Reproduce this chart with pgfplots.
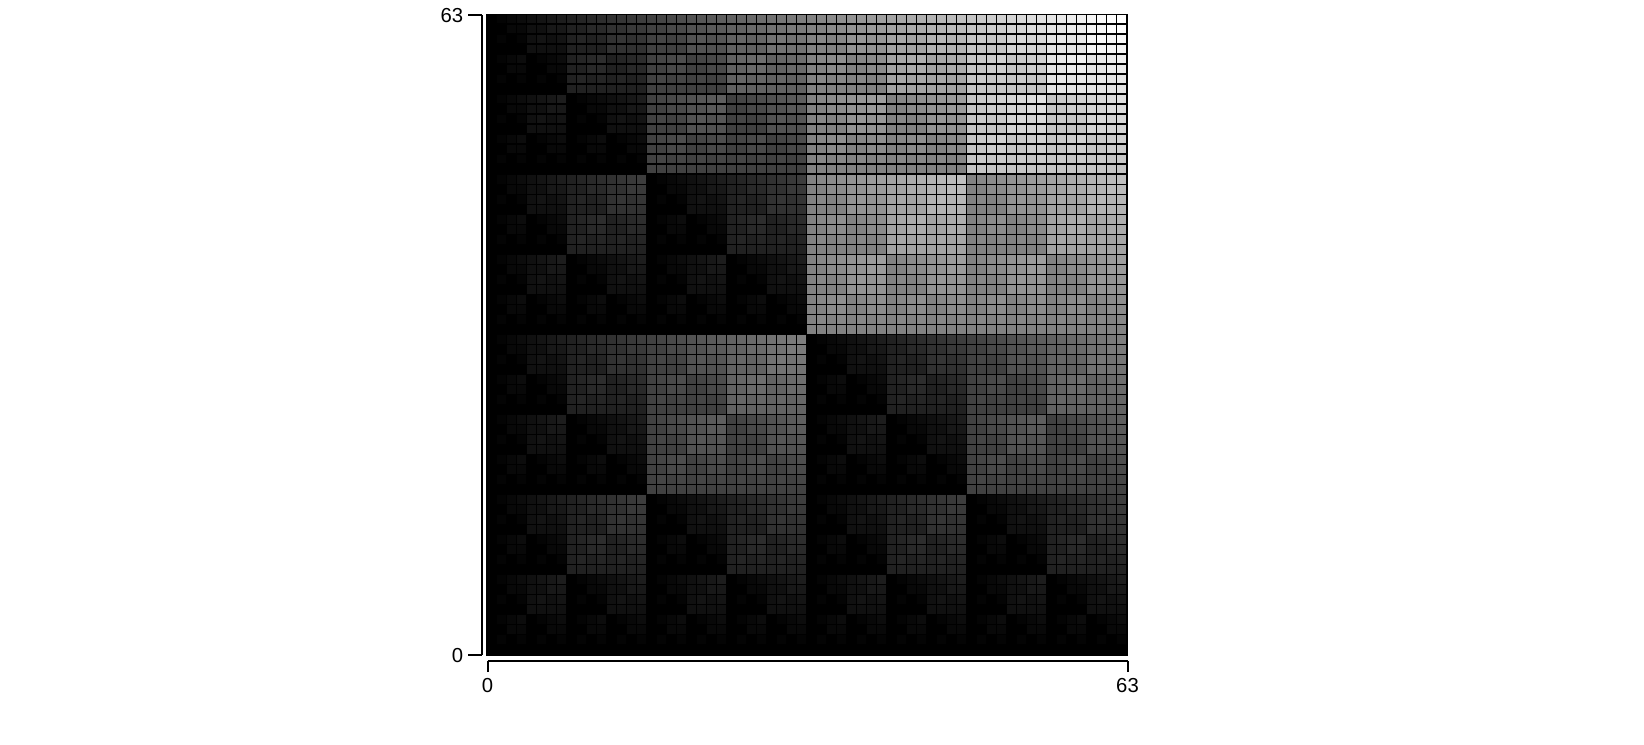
\documentclass[border=0pt]{standalone}
\usepackage{fontspec}
\setmainfont{Liberation Sans}
\usepackage{pgfplots}
\usepackage{pgfplotstable}
\pgfplotsset{compat=1.18}
% one line per y (0 at the top of this table), one column per x
\pgfplotstableread[header=false]{
0 0 0 0 0 0 0 0 0 0 0 0 0 0 0 0 0 0 0 0 0 0 0 0 0 0 0 0 0 0 0 0 0 0 0 0 0 0 0 0 0 0 0 0 0 0 0 0 0 0 0 0 0 0 0 0 0 0 0 0 0 0 0 0
0 1 0 1 0 1 0 1 0 1 0 1 0 1 0 1 0 1 0 1 0 1 0 1 0 1 0 1 0 1 0 1 0 1 0 1 0 1 0 1 0 1 0 1 0 1 0 1 0 1 0 1 0 1 0 1 0 1 0 1 0 1 0 1
0 0 2 2 0 0 2 2 0 0 2 2 0 0 2 2 0 0 2 2 0 0 2 2 0 0 2 2 0 0 2 2 0 0 2 2 0 0 2 2 0 0 2 2 0 0 2 2 0 0 2 2 0 0 2 2 0 0 2 2 0 0 2 2
0 1 2 3 0 1 2 3 0 1 2 3 0 1 2 3 0 1 2 3 0 1 2 3 0 1 2 3 0 1 2 3 0 1 2 3 0 1 2 3 0 1 2 3 0 1 2 3 0 1 2 3 0 1 2 3 0 1 2 3 0 1 2 3
0 0 0 0 4 4 4 4 0 0 0 0 4 4 4 4 0 0 0 0 4 4 4 4 0 0 0 0 4 4 4 4 0 0 0 0 4 4 4 4 0 0 0 0 4 4 4 4 0 0 0 0 4 4 4 4 0 0 0 0 4 4 4 4
0 1 0 1 4 5 4 5 0 1 0 1 4 5 4 5 0 1 0 1 4 5 4 5 0 1 0 1 4 5 4 5 0 1 0 1 4 5 4 5 0 1 0 1 4 5 4 5 0 1 0 1 4 5 4 5 0 1 0 1 4 5 4 5
0 0 2 2 4 4 6 6 0 0 2 2 4 4 6 6 0 0 2 2 4 4 6 6 0 0 2 2 4 4 6 6 0 0 2 2 4 4 6 6 0 0 2 2 4 4 6 6 0 0 2 2 4 4 6 6 0 0 2 2 4 4 6 6
0 1 2 3 4 5 6 7 0 1 2 3 4 5 6 7 0 1 2 3 4 5 6 7 0 1 2 3 4 5 6 7 0 1 2 3 4 5 6 7 0 1 2 3 4 5 6 7 0 1 2 3 4 5 6 7 0 1 2 3 4 5 6 7
0 0 0 0 0 0 0 0 8 8 8 8 8 8 8 8 0 0 0 0 0 0 0 0 8 8 8 8 8 8 8 8 0 0 0 0 0 0 0 0 8 8 8 8 8 8 8 8 0 0 0 0 0 0 0 0 8 8 8 8 8 8 8 8
0 1 0 1 0 1 0 1 8 9 8 9 8 9 8 9 0 1 0 1 0 1 0 1 8 9 8 9 8 9 8 9 0 1 0 1 0 1 0 1 8 9 8 9 8 9 8 9 0 1 0 1 0 1 0 1 8 9 8 9 8 9 8 9
0 0 2 2 0 0 2 2 8 8 10 10 8 8 10 10 0 0 2 2 0 0 2 2 8 8 10 10 8 8 10 10 0 0 2 2 0 0 2 2 8 8 10 10 8 8 10 10 0 0 2 2 0 0 2 2 8 8 10 10 8 8 10 10
0 1 2 3 0 1 2 3 8 9 10 11 8 9 10 11 0 1 2 3 0 1 2 3 8 9 10 11 8 9 10 11 0 1 2 3 0 1 2 3 8 9 10 11 8 9 10 11 0 1 2 3 0 1 2 3 8 9 10 11 8 9 10 11
0 0 0 0 4 4 4 4 8 8 8 8 12 12 12 12 0 0 0 0 4 4 4 4 8 8 8 8 12 12 12 12 0 0 0 0 4 4 4 4 8 8 8 8 12 12 12 12 0 0 0 0 4 4 4 4 8 8 8 8 12 12 12 12
0 1 0 1 4 5 4 5 8 9 8 9 12 13 12 13 0 1 0 1 4 5 4 5 8 9 8 9 12 13 12 13 0 1 0 1 4 5 4 5 8 9 8 9 12 13 12 13 0 1 0 1 4 5 4 5 8 9 8 9 12 13 12 13
0 0 2 2 4 4 6 6 8 8 10 10 12 12 14 14 0 0 2 2 4 4 6 6 8 8 10 10 12 12 14 14 0 0 2 2 4 4 6 6 8 8 10 10 12 12 14 14 0 0 2 2 4 4 6 6 8 8 10 10 12 12 14 14
0 1 2 3 4 5 6 7 8 9 10 11 12 13 14 15 0 1 2 3 4 5 6 7 8 9 10 11 12 13 14 15 0 1 2 3 4 5 6 7 8 9 10 11 12 13 14 15 0 1 2 3 4 5 6 7 8 9 10 11 12 13 14 15
0 0 0 0 0 0 0 0 0 0 0 0 0 0 0 0 16 16 16 16 16 16 16 16 16 16 16 16 16 16 16 16 0 0 0 0 0 0 0 0 0 0 0 0 0 0 0 0 16 16 16 16 16 16 16 16 16 16 16 16 16 16 16 16
0 1 0 1 0 1 0 1 0 1 0 1 0 1 0 1 16 17 16 17 16 17 16 17 16 17 16 17 16 17 16 17 0 1 0 1 0 1 0 1 0 1 0 1 0 1 0 1 16 17 16 17 16 17 16 17 16 17 16 17 16 17 16 17
0 0 2 2 0 0 2 2 0 0 2 2 0 0 2 2 16 16 18 18 16 16 18 18 16 16 18 18 16 16 18 18 0 0 2 2 0 0 2 2 0 0 2 2 0 0 2 2 16 16 18 18 16 16 18 18 16 16 18 18 16 16 18 18
0 1 2 3 0 1 2 3 0 1 2 3 0 1 2 3 16 17 18 19 16 17 18 19 16 17 18 19 16 17 18 19 0 1 2 3 0 1 2 3 0 1 2 3 0 1 2 3 16 17 18 19 16 17 18 19 16 17 18 19 16 17 18 19
0 0 0 0 4 4 4 4 0 0 0 0 4 4 4 4 16 16 16 16 20 20 20 20 16 16 16 16 20 20 20 20 0 0 0 0 4 4 4 4 0 0 0 0 4 4 4 4 16 16 16 16 20 20 20 20 16 16 16 16 20 20 20 20
0 1 0 1 4 5 4 5 0 1 0 1 4 5 4 5 16 17 16 17 20 21 20 21 16 17 16 17 20 21 20 21 0 1 0 1 4 5 4 5 0 1 0 1 4 5 4 5 16 17 16 17 20 21 20 21 16 17 16 17 20 21 20 21
0 0 2 2 4 4 6 6 0 0 2 2 4 4 6 6 16 16 18 18 20 20 22 22 16 16 18 18 20 20 22 22 0 0 2 2 4 4 6 6 0 0 2 2 4 4 6 6 16 16 18 18 20 20 22 22 16 16 18 18 20 20 22 22
0 1 2 3 4 5 6 7 0 1 2 3 4 5 6 7 16 17 18 19 20 21 22 23 16 17 18 19 20 21 22 23 0 1 2 3 4 5 6 7 0 1 2 3 4 5 6 7 16 17 18 19 20 21 22 23 16 17 18 19 20 21 22 23
0 0 0 0 0 0 0 0 8 8 8 8 8 8 8 8 16 16 16 16 16 16 16 16 24 24 24 24 24 24 24 24 0 0 0 0 0 0 0 0 8 8 8 8 8 8 8 8 16 16 16 16 16 16 16 16 24 24 24 24 24 24 24 24
0 1 0 1 0 1 0 1 8 9 8 9 8 9 8 9 16 17 16 17 16 17 16 17 24 25 24 25 24 25 24 25 0 1 0 1 0 1 0 1 8 9 8 9 8 9 8 9 16 17 16 17 16 17 16 17 24 25 24 25 24 25 24 25
0 0 2 2 0 0 2 2 8 8 10 10 8 8 10 10 16 16 18 18 16 16 18 18 24 24 26 26 24 24 26 26 0 0 2 2 0 0 2 2 8 8 10 10 8 8 10 10 16 16 18 18 16 16 18 18 24 24 26 26 24 24 26 26
0 1 2 3 0 1 2 3 8 9 10 11 8 9 10 11 16 17 18 19 16 17 18 19 24 25 26 27 24 25 26 27 0 1 2 3 0 1 2 3 8 9 10 11 8 9 10 11 16 17 18 19 16 17 18 19 24 25 26 27 24 25 26 27
0 0 0 0 4 4 4 4 8 8 8 8 12 12 12 12 16 16 16 16 20 20 20 20 24 24 24 24 28 28 28 28 0 0 0 0 4 4 4 4 8 8 8 8 12 12 12 12 16 16 16 16 20 20 20 20 24 24 24 24 28 28 28 28
0 1 0 1 4 5 4 5 8 9 8 9 12 13 12 13 16 17 16 17 20 21 20 21 24 25 24 25 28 29 28 29 0 1 0 1 4 5 4 5 8 9 8 9 12 13 12 13 16 17 16 17 20 21 20 21 24 25 24 25 28 29 28 29
0 0 2 2 4 4 6 6 8 8 10 10 12 12 14 14 16 16 18 18 20 20 22 22 24 24 26 26 28 28 30 30 0 0 2 2 4 4 6 6 8 8 10 10 12 12 14 14 16 16 18 18 20 20 22 22 24 24 26 26 28 28 30 30
0 1 2 3 4 5 6 7 8 9 10 11 12 13 14 15 16 17 18 19 20 21 22 23 24 25 26 27 28 29 30 31 0 1 2 3 4 5 6 7 8 9 10 11 12 13 14 15 16 17 18 19 20 21 22 23 24 25 26 27 28 29 30 31
0 0 0 0 0 0 0 0 0 0 0 0 0 0 0 0 0 0 0 0 0 0 0 0 0 0 0 0 0 0 0 0 32 32 32 32 32 32 32 32 32 32 32 32 32 32 32 32 32 32 32 32 32 32 32 32 32 32 32 32 32 32 32 32
0 1 0 1 0 1 0 1 0 1 0 1 0 1 0 1 0 1 0 1 0 1 0 1 0 1 0 1 0 1 0 1 32 33 32 33 32 33 32 33 32 33 32 33 32 33 32 33 32 33 32 33 32 33 32 33 32 33 32 33 32 33 32 33
0 0 2 2 0 0 2 2 0 0 2 2 0 0 2 2 0 0 2 2 0 0 2 2 0 0 2 2 0 0 2 2 32 32 34 34 32 32 34 34 32 32 34 34 32 32 34 34 32 32 34 34 32 32 34 34 32 32 34 34 32 32 34 34
0 1 2 3 0 1 2 3 0 1 2 3 0 1 2 3 0 1 2 3 0 1 2 3 0 1 2 3 0 1 2 3 32 33 34 35 32 33 34 35 32 33 34 35 32 33 34 35 32 33 34 35 32 33 34 35 32 33 34 35 32 33 34 35
0 0 0 0 4 4 4 4 0 0 0 0 4 4 4 4 0 0 0 0 4 4 4 4 0 0 0 0 4 4 4 4 32 32 32 32 36 36 36 36 32 32 32 32 36 36 36 36 32 32 32 32 36 36 36 36 32 32 32 32 36 36 36 36
0 1 0 1 4 5 4 5 0 1 0 1 4 5 4 5 0 1 0 1 4 5 4 5 0 1 0 1 4 5 4 5 32 33 32 33 36 37 36 37 32 33 32 33 36 37 36 37 32 33 32 33 36 37 36 37 32 33 32 33 36 37 36 37
0 0 2 2 4 4 6 6 0 0 2 2 4 4 6 6 0 0 2 2 4 4 6 6 0 0 2 2 4 4 6 6 32 32 34 34 36 36 38 38 32 32 34 34 36 36 38 38 32 32 34 34 36 36 38 38 32 32 34 34 36 36 38 38
0 1 2 3 4 5 6 7 0 1 2 3 4 5 6 7 0 1 2 3 4 5 6 7 0 1 2 3 4 5 6 7 32 33 34 35 36 37 38 39 32 33 34 35 36 37 38 39 32 33 34 35 36 37 38 39 32 33 34 35 36 37 38 39
0 0 0 0 0 0 0 0 8 8 8 8 8 8 8 8 0 0 0 0 0 0 0 0 8 8 8 8 8 8 8 8 32 32 32 32 32 32 32 32 40 40 40 40 40 40 40 40 32 32 32 32 32 32 32 32 40 40 40 40 40 40 40 40
0 1 0 1 0 1 0 1 8 9 8 9 8 9 8 9 0 1 0 1 0 1 0 1 8 9 8 9 8 9 8 9 32 33 32 33 32 33 32 33 40 41 40 41 40 41 40 41 32 33 32 33 32 33 32 33 40 41 40 41 40 41 40 41
0 0 2 2 0 0 2 2 8 8 10 10 8 8 10 10 0 0 2 2 0 0 2 2 8 8 10 10 8 8 10 10 32 32 34 34 32 32 34 34 40 40 42 42 40 40 42 42 32 32 34 34 32 32 34 34 40 40 42 42 40 40 42 42
0 1 2 3 0 1 2 3 8 9 10 11 8 9 10 11 0 1 2 3 0 1 2 3 8 9 10 11 8 9 10 11 32 33 34 35 32 33 34 35 40 41 42 43 40 41 42 43 32 33 34 35 32 33 34 35 40 41 42 43 40 41 42 43
0 0 0 0 4 4 4 4 8 8 8 8 12 12 12 12 0 0 0 0 4 4 4 4 8 8 8 8 12 12 12 12 32 32 32 32 36 36 36 36 40 40 40 40 44 44 44 44 32 32 32 32 36 36 36 36 40 40 40 40 44 44 44 44
0 1 0 1 4 5 4 5 8 9 8 9 12 13 12 13 0 1 0 1 4 5 4 5 8 9 8 9 12 13 12 13 32 33 32 33 36 37 36 37 40 41 40 41 44 45 44 45 32 33 32 33 36 37 36 37 40 41 40 41 44 45 44 45
0 0 2 2 4 4 6 6 8 8 10 10 12 12 14 14 0 0 2 2 4 4 6 6 8 8 10 10 12 12 14 14 32 32 34 34 36 36 38 38 40 40 42 42 44 44 46 46 32 32 34 34 36 36 38 38 40 40 42 42 44 44 46 46
0 1 2 3 4 5 6 7 8 9 10 11 12 13 14 15 0 1 2 3 4 5 6 7 8 9 10 11 12 13 14 15 32 33 34 35 36 37 38 39 40 41 42 43 44 45 46 47 32 33 34 35 36 37 38 39 40 41 42 43 44 45 46 47
0 0 0 0 0 0 0 0 0 0 0 0 0 0 0 0 16 16 16 16 16 16 16 16 16 16 16 16 16 16 16 16 32 32 32 32 32 32 32 32 32 32 32 32 32 32 32 32 48 48 48 48 48 48 48 48 48 48 48 48 48 48 48 48
0 1 0 1 0 1 0 1 0 1 0 1 0 1 0 1 16 17 16 17 16 17 16 17 16 17 16 17 16 17 16 17 32 33 32 33 32 33 32 33 32 33 32 33 32 33 32 33 48 49 48 49 48 49 48 49 48 49 48 49 48 49 48 49
0 0 2 2 0 0 2 2 0 0 2 2 0 0 2 2 16 16 18 18 16 16 18 18 16 16 18 18 16 16 18 18 32 32 34 34 32 32 34 34 32 32 34 34 32 32 34 34 48 48 50 50 48 48 50 50 48 48 50 50 48 48 50 50
0 1 2 3 0 1 2 3 0 1 2 3 0 1 2 3 16 17 18 19 16 17 18 19 16 17 18 19 16 17 18 19 32 33 34 35 32 33 34 35 32 33 34 35 32 33 34 35 48 49 50 51 48 49 50 51 48 49 50 51 48 49 50 51
0 0 0 0 4 4 4 4 0 0 0 0 4 4 4 4 16 16 16 16 20 20 20 20 16 16 16 16 20 20 20 20 32 32 32 32 36 36 36 36 32 32 32 32 36 36 36 36 48 48 48 48 52 52 52 52 48 48 48 48 52 52 52 52
0 1 0 1 4 5 4 5 0 1 0 1 4 5 4 5 16 17 16 17 20 21 20 21 16 17 16 17 20 21 20 21 32 33 32 33 36 37 36 37 32 33 32 33 36 37 36 37 48 49 48 49 52 53 52 53 48 49 48 49 52 53 52 53
0 0 2 2 4 4 6 6 0 0 2 2 4 4 6 6 16 16 18 18 20 20 22 22 16 16 18 18 20 20 22 22 32 32 34 34 36 36 38 38 32 32 34 34 36 36 38 38 48 48 50 50 52 52 54 54 48 48 50 50 52 52 54 54
0 1 2 3 4 5 6 7 0 1 2 3 4 5 6 7 16 17 18 19 20 21 22 23 16 17 18 19 20 21 22 23 32 33 34 35 36 37 38 39 32 33 34 35 36 37 38 39 48 49 50 51 52 53 54 55 48 49 50 51 52 53 54 55
0 0 0 0 0 0 0 0 8 8 8 8 8 8 8 8 16 16 16 16 16 16 16 16 24 24 24 24 24 24 24 24 32 32 32 32 32 32 32 32 40 40 40 40 40 40 40 40 48 48 48 48 48 48 48 48 56 56 56 56 56 56 56 56
0 1 0 1 0 1 0 1 8 9 8 9 8 9 8 9 16 17 16 17 16 17 16 17 24 25 24 25 24 25 24 25 32 33 32 33 32 33 32 33 40 41 40 41 40 41 40 41 48 49 48 49 48 49 48 49 56 57 56 57 56 57 56 57
0 0 2 2 0 0 2 2 8 8 10 10 8 8 10 10 16 16 18 18 16 16 18 18 24 24 26 26 24 24 26 26 32 32 34 34 32 32 34 34 40 40 42 42 40 40 42 42 48 48 50 50 48 48 50 50 56 56 58 58 56 56 58 58
0 1 2 3 0 1 2 3 8 9 10 11 8 9 10 11 16 17 18 19 16 17 18 19 24 25 26 27 24 25 26 27 32 33 34 35 32 33 34 35 40 41 42 43 40 41 42 43 48 49 50 51 48 49 50 51 56 57 58 59 56 57 58 59
0 0 0 0 4 4 4 4 8 8 8 8 12 12 12 12 16 16 16 16 20 20 20 20 24 24 24 24 28 28 28 28 32 32 32 32 36 36 36 36 40 40 40 40 44 44 44 44 48 48 48 48 52 52 52 52 56 56 56 56 60 60 60 60
0 1 0 1 4 5 4 5 8 9 8 9 12 13 12 13 16 17 16 17 20 21 20 21 24 25 24 25 28 29 28 29 32 33 32 33 36 37 36 37 40 41 40 41 44 45 44 45 48 49 48 49 52 53 52 53 56 57 56 57 60 61 60 61
0 0 2 2 4 4 6 6 8 8 10 10 12 12 14 14 16 16 18 18 20 20 22 22 24 24 26 26 28 28 30 30 32 32 34 34 36 36 38 38 40 40 42 42 44 44 46 46 48 48 50 50 52 52 54 54 56 56 58 58 60 60 62 62
0 1 2 3 4 5 6 7 8 9 10 11 12 13 14 15 16 17 18 19 20 21 22 23 24 25 26 27 28 29 30 31 32 33 34 35 36 37 38 39 40 41 42 43 44 45 46 47 48 49 50 51 52 53 54 55 56 57 58 59 60 61 62 63
}\cells
\begin{document}
\begin{tikzpicture}
\useasboundingbox (0,0) rectangle (1233pt,558pt);
\begin{axis}[
    at={(364.875pt,67pt)}, anchor=south west,
    scale only axis, width=480pt, height=480pt,
    xmin=0, xmax=64, ymin=0, ymax=64,
    axis lines=left,
    axis line style={-, line width=1.5pt, black},
    axis x line shift=4.5pt,
    axis y line shift=4pt,
    axis background/.style={fill=black, draw=black, line width=1.5pt, xshift=-0.75pt, yshift=0.5pt},
    xtick={0,64}, xticklabels={0,63},
    ytick={0,64}, yticklabels={0,63},
    tick align=outside,
    tick style={line width=1.5pt, black},
    major tick length=8pt,
    ytick style={/pgfplots/major tick length=10.3pt},
    tick label style={font=\fontsize{15.2}{17}\selectfont, text=black},
    xticklabel style={yshift=-1.3pt},
    yticklabel style={xshift=-2.7pt},
    colormap={bw}{gray(0cm)=(0); gray(1cm)=(1)},
    point meta min=0, point meta max=63,
]
\pgfplotsinvokeforeach{0,...,63}{
    \addplot[scatter, only marks, mark=square*, mark size=2.75pt,
        mark options={line width=0pt},
        scatter src=explicit,
        scatter/use mapped color={draw=mapped color, fill=mapped color}]
        table[x expr=#1+0.4, y expr=\coordindex+0.6, meta index=#1] {\cells};
}
\end{axis}
\end{tikzpicture}
\end{document}
